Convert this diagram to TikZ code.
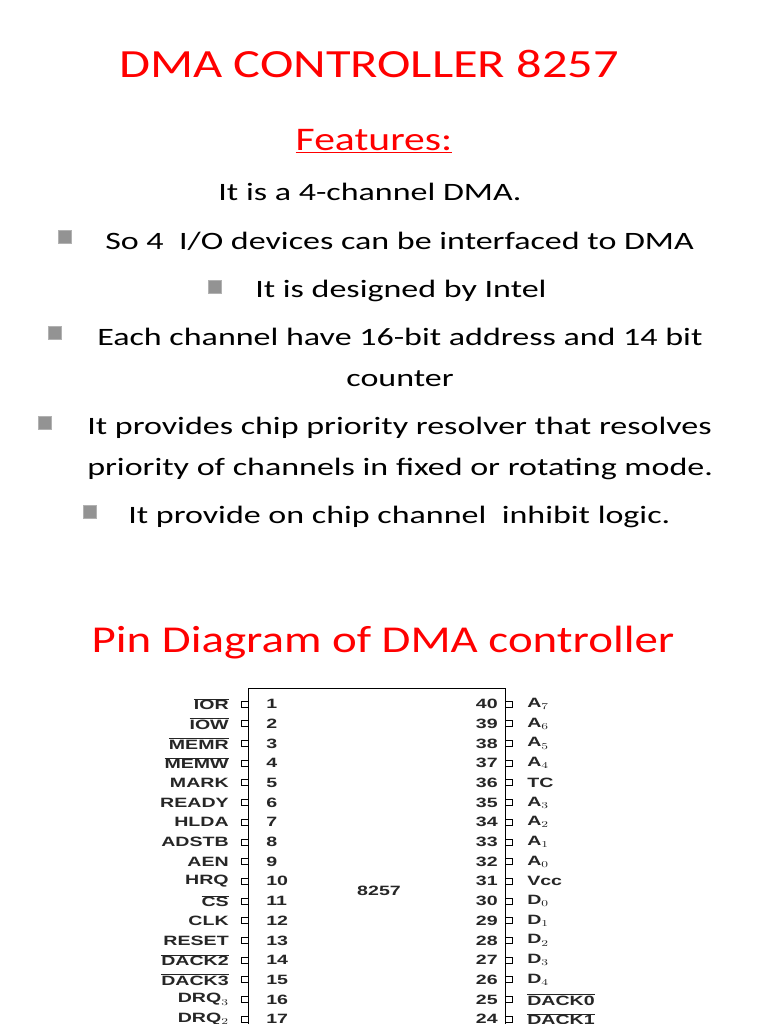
\documentclass[tikz,border=0pt]{standalone}
\usepackage{fontspec}
\setmainfont{Carlito}
\newfontfamily\pinf{Liberation Sans}
\begin{document}
\begin{tikzpicture}[x=1pt,y=-1pt,
  title/.style={text=red,font=\fontsize{40}{40}\selectfont,anchor=base,xscale=1.26},
  body/.style={font=\fontsize{25}{25}\selectfont,anchor=base west,inner sep=0,xscale=1.36},
  bul/.style={fill=gray!85,draw=gray!60,minimum size=13pt,inner sep=0},
  lab/.style={font=\pinf\bfseries\fontsize{13.5}{13.5}\selectfont,inner sep=0,xscale=1.45,text=black!85},
  stub/.style={line width=0.7pt}]
\useasboundingbox (0,0) rectangle (768,1024);
\fill[white] (0,0) rectangle (768,1024);
\node[title] (t) at (369,78) {DMA CONTROLLER 8257};
\node[title,font=\fontsize{33}{33}\selectfont] (f) at (374,151) {\underline{Features:}};
\node[body,anchor=base] (l1) at (370,201) {It is a 4-channel DMA.};
\node[bul] (b2) at (65,237) {}; \node[body] (l2) at (105,249) {So 4\ \ I/O devices can be interfaced to DMA};
\node[bul] (b3) at (215,287) {}; \node[body] (l3) at (255,297) {It is designed by Intel};
\node[bul] (b4) at (55,333) {}; \node[body] (l4) at (97,345) {Each channel have 16-bit address and 14 bit};
\node[body,anchor=base] (l4b) at (400,386) {counter};
\node[bul] (b5) at (45,423) {}; \node[body] (l5) at (87,434) {It provides chip priority resolver that resolves};
\node[body] (l5b) at (87,475) {priority of channels in fixed or rotating mode.};
\node[bul] (b6) at (90,512) {}; \node[body] (l6) at (128,523) {It provide on chip channel\ \ inhibit logic.};
\node[title,font=\fontsize{38}{38}\selectfont,xscale=0.98] (p) at (383,652) {Pin Diagram of DMA controller};
% chip
\draw[line width=0.8pt] (248,1030) -- (248,688) -- (505,688) -- (505,1030);
\node[lab] (chip) at (379,891) {8257};
\foreach \n/\t [count=\i] in {1/$\overline{\mbox{IOR}}$,2/$\overline{\mbox{IOW}}$,3/$\overline{\mbox{MEMR}}$,4/$\overline{\mbox{MEMW}}$,5/MARK,6/READY,7/HLDA,8/ADSTB,9/AEN,10/HRQ,11/$\overline{\mbox{CS}}$,12/CLK,13/RESET,14/$\overline{\mbox{DACK2}}$,15/$\overline{\mbox{DACK3}}$,16/DRQ$_3$,17/DRQ$_2$}{
  \pgfmathsetmacro\yy{704+(\i-1)*19.7}
  \node[lab,anchor=east] (L\n) at (229,\yy) {\t};
  \node[lab,anchor=west] (N\n) at (266,\yy) {\n};
  \draw[stub] (248,\yy-3) -- (241,\yy-3) -- (241,\yy+3) -- (248,\yy+3);
}
\foreach \n/\t [count=\i] in {40/A$_7$,39/A$_6$,38/A$_5$,37/A$_4$,36/TC,35/A$_3$,34/A$_2$,33/A$_1$,32/A$_0$,31/Vcc,30/D$_0$,29/D$_1$,28/D$_2$,27/D$_3$,26/D$_4$,25/$\overline{\mbox{DACK0}}$,24/$\overline{\mbox{DACK1}}$}{
  \pgfmathsetmacro\yy{704+(\i-1)*19.7}
  \node[lab,anchor=west] (R\n) at (527,\yy) {\t};
  \node[lab,anchor=east] (N\n) at (498,\yy) {\n};
  \draw[stub] (505,\yy-3) -- (512,\yy-3) -- (512,\yy+3) -- (505,\yy+3);
}
\end{tikzpicture}
\end{document}
